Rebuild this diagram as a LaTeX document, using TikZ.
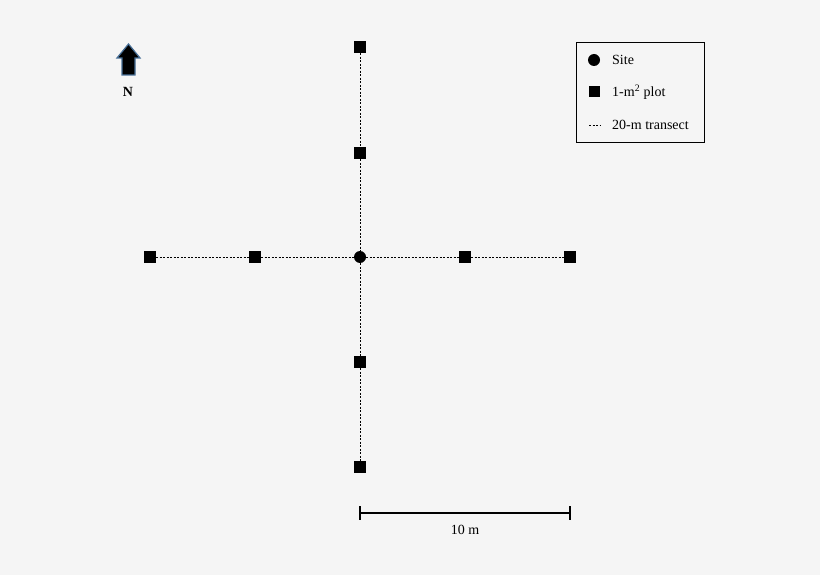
\documentclass[tikz,border=0pt]{standalone}
\usepackage{fontspec}
\setmainfont{Liberation Serif}
\begin{document}
\begin{tikzpicture}[x=1pt,y=-1pt,
  plot/.style={fill=black,minimum size=12pt,inner sep=0pt,rectangle},
  site/.style={fill=black,circle,minimum size=12pt,inner sep=0pt},
  tr/.style={dash pattern=on 2pt off 1.5pt,line width=0.6pt},
  lbl/.style={font=\fontsize{14}{16}\selectfont,anchor=west,inner sep=0pt}]
\fill[white!96!black] (0,0) rectangle (820,575);
\useasboundingbox (0,0) rectangle (820,575);
% north arrow
\filldraw[fill=black,draw={rgb,255:red,70;green,110;blue,150},line width=1.2pt] (122,75) -- (122,58) -- (117,58) -- (128.5,44) -- (140,58) -- (135,58) -- (135,75) -- cycle;
\node[font=\bfseries\fontsize{14}{16}\selectfont] (N) at (128,92) {N};
% transects
\node[site] (c) at (360,257) {};
\node[plot] (n2) at (360,47) {};
\node[plot] (n1) at (360,153) {};
\node[plot] (s1) at (360,362) {};
\node[plot] (s2) at (360,467) {};
\node[plot] (w2) at (150,257) {};
\node[plot] (w1) at (255,257) {};
\node[plot] (e1) at (465,257) {};
\node[plot] (e2) at (570,257) {};
\draw[tr] (n2) -- (n1) -- (c) -- (s1) -- (s2);
\draw[tr] (w2) -- (w1) -- (c) -- (e1) -- (e2);
% legend
\draw[line width=0.9pt] (576,42) rectangle (704,142);
\node[circle,fill=black,minimum size=12pt,inner sep=0pt] (ls) at (594,60) {};
\node[lbl] (lst) at (612,60) {Site};
\node[plot,minimum size=11pt] (lp) at (594,92) {};
\node[lbl] (lpt) at (612,92) {1-m\textsuperscript{2} plot};
\coordinate (la) at (589,125); \coordinate (lb) at (600,125);
\draw[tr] (la) -- (lb);
\node[lbl] (ltt) at (612,125) {20-m transect};
% scale bar
\coordinate (sa) at (360,513); \coordinate (sb) at (570,513);
\draw[line width=2.2pt] (sa) -- (sb);
\draw[line width=2.2pt] (360,506) -- (360,520) (570,506) -- (570,520);
\node[font=\fontsize{14}{16}\selectfont] (sl) at (465,530) {10 m};
\end{tikzpicture}
\end{document}
